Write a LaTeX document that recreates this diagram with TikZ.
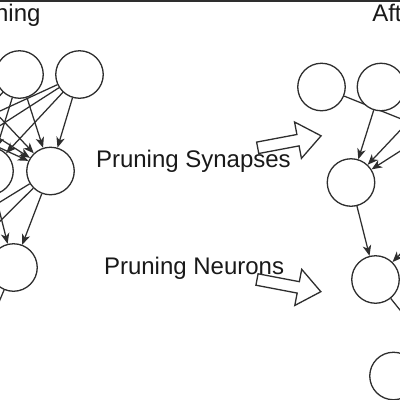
\documentclass[tikz,border=0pt]{standalone}
\usepackage{fontspec}
\setmainfont{Liberation Sans}
\usetikzlibrary{arrows.meta}
\definecolor{ln}{HTML}{2E2E2E}
\pgfdeclarelayer{bg}
\pgfsetlayers{bg,main}
\begin{document}
\begin{tikzpicture}[x=1pt,y=-1pt,
  neuron/.style={circle, draw=ln, line width=1.3pt, fill=white, minimum size=47.5pt, inner sep=0pt},
  syn/.style={draw=ln, line width=1.25pt, -{Stealth[length=10.5pt,width=8.5pt,inset=3pt]}},
  synline/.style={draw=ln, line width=1.25pt},
  lbl/.style={font=\fontsize{24}{28}\selectfont, text=black!90, inner sep=0pt, outer sep=0pt},
  blockarrow/.style={draw=ln, line width=1.3pt, fill=white, line join=miter}]
\useasboundingbox (0,0) rectangle (400,400);
% left network
\node[neuron] (A) at (19.5,74.5) {};
\node[neuron] (B) at (79.5,74.5) {};
\node[neuron] (C) at (50.5,171) {};
\node[neuron] (D) at (-10.5,171) {};
\node[neuron] (E) at (13.5,267.5) {};
\coordinate (A0) at (-40.5,74.5);
\coordinate (A00) at (-100.5,74.5);
\coordinate (A000) at (-160.5,74.5);
\coordinate (D0) at (-70.5,171);
\coordinate (D00) at (-130.5,171);
\coordinate (E0) at (-46.5,267.5);
\coordinate (E00) at (-106.5,267.5);
\coordinate (F0) at (-27,364);
% right network
\node[neuron] (F) at (321.5,87) {};
\node[neuron] (G) at (381,87) {};
\node[neuron] (H) at (351,182.5) {};
\node[neuron] (I) at (375.5,279.5) {};
\node[neuron] (J) at (393.5,376) {};
\coordinate (K) at (441,87);
\coordinate (L) at (500.5,87);
\coordinate (Rf) at (561,183);
\coordinate (M) at (470,182.5);
\coordinate (Ib) at (453,376);
\begin{pgfonlayer}{bg}
\fill[white] (0,0) rectangle (400,400);
\draw[syn] (A) -- (C);
\draw[syn] (B) -- (C);
\draw[syn] (A) -- (D);
\draw[syn] (B) -- (D);
\draw[syn] (A0) -- (C);
\draw[syn] (A00) -- (C);
\draw[syn] (A000) -- (C);
\draw[synline] (A) -- (D0);
\draw[synline] (B) -- (D0);
\draw[synline] (B) -- (D00);
\draw[syn] (C) -- (E);
\draw[syn] (D) -- (E);
\draw[synline] (C) -- (E0);
\draw[synline] (C) -- (E00);
\draw[synline] (E) -- (F0);
\draw[syn] (G) -- (H);
\draw[syn] (K) -- (H);
\draw[syn] (L) -- (H);
\draw[synline] (F) -- (Rf);
\draw[syn] (H) -- (I);
\draw[syn] (M) -- (I);
\draw[synline] (I) -- (Ib);
\end{pgfonlayer}
\fill[ln] (0,0) rectangle (400,1.8);
% block arrows
\draw[blockarrow] (256.62,142.10) -- (296.91,134.49) -- (294.55,122.01) -- (321.08,135.82) -- (301.43,158.37) -- (299.07,145.89) -- (258.78,153.50) -- cycle;
\draw[blockarrow] (258.09,273.80) -- (299.35,281.67) -- (301.71,269.30) -- (320.85,291.68) -- (294.81,305.44) -- (297.17,293.07) -- (255.91,285.20) -- cycle;
% labels
\node[lbl, anchor=base east] (t1) at (40.5,21) {Before Pruning};
\node[lbl, anchor=base west] (t2) at (372.3,21) {After Pruning};
\node[lbl, anchor=base west] (t3) at (96,167) {Pruning Synapses};
\node[lbl, anchor=base west] (t4) at (104,274) {Pruning Neurons};
\end{tikzpicture}
\end{document}
